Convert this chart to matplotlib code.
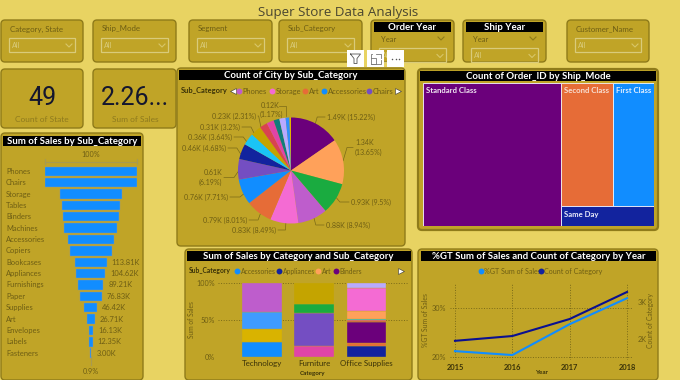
#Importing the functions
import numpy as np
import matplotlib
matplotlib.use('Agg')
import matplotlib.pyplot as plt
from matplotlib.patches import FancyBboxPatch, Rectangle

plt.rcParams['font.family'] = ['Lato', 'Roboto', 'DejaVu Sans']

# Data for the funnel
sub_categories = ['Phones', 'Chairs', 'Storage', 'Tables', 'Binders', 'Machines', 'Accessories', 'Copiers',
                  'Bookcases', 'Appliances', 'Furnishings', 'Paper', 'Supplies', 'Art', 'Envelopes', 'Labels', 'Fasteners']
sales_k = [330.0, 327.0, 222.0, 206.0, 202.0, 189.0, 164.0, 148.0,
           113.81, 104.62, 89.21, 76.83, 46.42, 26.71, 16.13, 12.35, 3.00]
funnel_labels = ['', '', '', '', '', '', '', '', '113.81K', '104.62K', '89.21K', '76.83K', '46.42K', '26.71K', '16.13K', '12.35K', '3.00K']

# Data for the pie (percent of city count, clockwise from the top)
pie_share = [15.22, 13.65, 9.5, 8.94, 8.49, 8.01, 7.71, 6.19, 4.68, 3.64, 3.2, 2.31, 2.2, 1.75, 1.9, 1.17, 0.44]
pie_colors = ['#6B007B', '#FFA15A', '#1AAB40', '#BE5DCC', '#F46BD3', '#E66C37', '#118DFF', '#744EC2', '#12239E',
              '#1AC4F5', '#C4A400', '#D9434F', '#E044A7', '#107C7C', '#B8AAFF', '#2F8FFF', '#E0B400']
pie_labels = ['1.49K (15.22%)', '1.34K\n(13.65%)', '0.93K (9.5%)', '0.88K (8.94%)', '0.83K (8.49%)', '0.79K (8.01%)',
              '0.76K (7.71%)', '0.61K\n(6.19%)', '0.46K (4.68%)', '0.36K (3.64%)', '0.31K (3.2%)', '0.23K (2.31%)']

# Data for the treemap
ship_modes = ['Standard Class', 'Second Class', 'First Class', 'Same Day']
order_counts = [5859, 1902, 1501, 538]
ship_colors = ['#6B007B', '#E66C37', '#118DFF', '#12239E']

# Data for the stacked bars
categories = ['Technology', 'Furniture', 'Office Supplies']
tech_sales = [164.0, 148.0, 189.0, 330.0]
tech_colors = ['#118DFF', '#D9B300', '#3F9BFF', '#BE5DCC']
furn_sales = [113.81, 327.0, 89.21, 206.0]
furn_colors = ['#E044A7', '#744EC2', '#1AAB40', '#C4A400']
office_sales = [104.62, 26.71, 202.0, 16.13, 3.00, 12.35, 76.83, 222.0, 46.42]
office_colors = ['#12239E', '#E66C37', '#6B007B', '#D9434F', '#E044A7', '#1AC4F5', '#FFA15A', '#F46BD3', '#B8AAFF']

# Data for the line chart
years = [2015, 2016, 2017, 2018]
pct_sales = [21.2, 20.4, 26.7, 32.0]
count_category = [1.95, 2.08, 2.54, 3.27]

BG = '#E8D362'
PANEL = '#C0A427'
EDGE = '#8F7B1A'
TXT = '#6E5E14'
DARK = '#3A3208'

fig = plt.figure(figsize=(6.8, 3.8), dpi=100, facecolor=BG)

# Whole figure axes in pixels, the panels and texts go on this one
bg = fig.add_axes([0, 0, 1, 1])
bg.set_xlim(0, 680)
bg.set_ylim(380, 0)
bg.axis('off')


def px_axes(x0, y0, x1, y1):
    # Makes an axes from pixel corners
    ax = fig.add_axes([x0/680, 1 - y1/380, (x1 - x0)/680, (y1 - y0)/380])
    ax.patch.set_alpha(0)
    return ax


def panel(x0, y0, x1, y1, lw=1.0):
    bg.add_patch(FancyBboxPatch((x0 + 3, y0 + 3), x1 - x0 - 6, y1 - y0 - 6, boxstyle='round,pad=3,rounding_size=4',
                                fc=PANEL, ec=EDGE, lw=lw))


def title_bar(x0, y0, x1, y1, text, size=6.9):
    bg.add_patch(Rectangle((x0, y0), x1 - x0, y1 - y0, fc='black', ec='none'))
    bg.text((x0 + x1)/2, (y0 + y1)/2 + 0.3, text, color='white', fontsize=size, fontweight='bold', ha='center', va='center')


def chevron(x, y, color='#D8C668'):
    bg.plot([x - 3, x, x + 3], [y - 1.5, y + 1.5, y - 1.5], color=color, lw=0.8)


def slicer(x0, x1, name):
    panel(x0, 20, x1, 62)
    bg.text(x0 + 9, 29, name, color=TXT, fontsize=5.7, va='center')
    bg.add_patch(Rectangle((x0 + 8, 38), x1 - x0 - 16, 14, fc='none', ec='#D9CB7A', lw=0.9))
    bg.text(x0 + 11, 45.5, 'All', color='#D9CB7A', fontsize=5.2, va='center')
    chevron(x1 - 14, 45.5)


def year_slicer(x0, x1, name):
    panel(x0, 20, x1, 62)
    title_bar(x0 + 3, 22, x1 - 3, 32, name)
    bg.text(x0 + 10, 40, 'Year', color=TXT, fontsize=5.5, va='center')
    chevron(x1 - 13, 38.5, '#8F7B1A')
    bg.add_patch(Rectangle((x0 + 8, 48), x1 - x0 - 16, 13.5, fc='none', ec='#D9CB7A', lw=0.9))
    bg.text(x0 + 11, 56, 'All', color='#D9CB7A', fontsize=5.2, va='center')
    chevron(x1 - 14, 56)


def legend_item(x, y, name, color, size=5.4):
    bg.scatter([x], [y], s=18, color=color, linewidths=0, zorder=4)
    bg.text(x + 3.5, y + 0.2, name, color=TXT, fontsize=size, va='center')


def arrow(x, y, direction):
    bg.scatter([x], [y], s=18, marker='>' if direction > 0 else '<', color='white', edgecolors='#333333', linewidths=0.4, zorder=4)


# Header and the slicers
bg.text(338, 12.5, 'Super Store Data Analysis', color='#4A4630', fontsize=9.6, ha='center', va='center', family='Open Sans')
slicer(1, 83, 'Category, State')
slicer(93, 176, 'Ship_Mode')
slicer(189, 272, 'Segment')
slicer(279, 362, 'Sub_Category')
year_slicer(371, 454, 'Order Year')
year_slicer(463, 546, 'Ship Year')
slicer(567, 649, 'Customer_Name')

# The two cards
panel(1, 69, 83, 128)
bg.text(42, 98, '49', color='#14162E', fontsize=18, ha='center', va='center', family='Roboto')
bg.text(42, 120, 'Count of State', color='#8E7A1E', fontsize=6, ha='center', va='center')
panel(93, 69, 176, 128)
bg.text(135, 98, '2.26...', color='#14162E', fontsize=18, ha='center', va='center', family='Roboto')
bg.text(135, 120, 'Sum of Sales', color='#8E7A1E', fontsize=6, ha='center', va='center')

# Funnel panel
panel(1, 133, 143, 380)
title_bar(3, 136, 141, 146, 'Sum of Sales by Sub_Category')
bg.text(91, 154.5, '100%', color=TXT, fontsize=5.2, ha='center', va='center')
bg.plot([44.7, 137], [161.5, 161.5], color='#A89A50', lw=0.8)
bg.plot([44.7, 44.7], [159, 164], color='#A89A50', lw=0.8)
bg.plot([137, 137], [159, 164], color='#A89A50', lw=0.8)
bg.plot([91, 91], [356, 365], color='#A89A50', lw=0.8)
bg.text(91, 371.5, '0.9%', color=TXT, fontsize=5.2, ha='center', va='center')

ax1 = px_axes(44.7, 165.6, 137, 358.9)
sales = np.array(sales_k)
ax1.barh(range(len(sales)), sales, left=-sales/2, height=0.83, color='#118DFF', edgecolor='#8E9AA0', linewidth=0.3)
ax1.set_xlim(-165, 165)
ax1.set_ylim(16.5, -0.5)
ax1.axis('off')
for i, name in enumerate(sub_categories):
    bg.text(6, 171.3 + i*11.37, name, color=TXT, fontsize=5.4, va='center')
    if funnel_labels[i]:
        ax1.annotate(funnel_labels[i], (sales[i]/2, i), xytext=(5, 0), textcoords='offset pixels',
                     color=TXT, fontsize=5.4, va='center', annotation_clip=False)

# Pie panel
panel(177, 68, 405, 246)
title_bar(178.5, 70, 403.5, 80, 'Count of City by Sub_Category')
bg.text(181, 91, 'Sub_Category', color=DARK, fontsize=5.4, fontweight='bold', va='center')
arrow(233, 90.5, -1)
arrow(398, 90.5, 1)
legend_item(239, 91, 'Phones', '#BE5DCC')
legend_item(272, 91, 'Storage', '#F46BD3')
legend_item(305, 91, 'Art', '#E66C37')
legend_item(324, 91, 'Accessories', '#118DFF')
legend_item(369, 91, 'Chairs', '#744EC2')

ax2 = px_axes(291 - 54, 170.5 - 54, 291 + 54, 170.5 + 54)
ax2.pie(pie_share, colors=pie_colors, startangle=90, counterclock=False, radius=1.0,
        wedgeprops={'linewidth': 0})
ax2.set_xlim(-1.0185, 1.0185)
ax2.set_ylim(-1.0185, 1.0185)

# Pie labels and their leader lines, places are in pixels
label_pos = [(327, 117, 'left'), (355, 147.5, 'left'), (351, 202, 'left'), (326, 225, 'left'), (276, 230, 'right'), (247, 220, 'right'),
             (228, 197, 'right'), (222, 177.5, 'right'), (226, 148, 'right'), (232, 137, 'right'), (240, 127, 'right'), (256, 116, 'right')]
edges = np.cumsum([0] + pie_share)
for i, text in enumerate(pie_labels):
    lx, ly, side = label_pos[i]
    mid = np.radians((edges[i] + edges[i + 1])/2*3.6)
    ex, ey = 291 + 53*np.sin(mid), 170.5 - 53*np.cos(mid)
    ox = 291 + 57*np.sin(mid)
    end = lx - 2 if side == 'left' else lx + 2
    bg.plot([ex, ox, end], [ey, ly, ly], color='#7A6A18', lw=0.5, zorder=3)
    bg.text(lx, ly, text, color=TXT, fontsize=5.1, ha=side, va='center', linespacing=1.3)
bg.text(270, 106, '0.12K', color=TXT, fontsize=5.1, ha='center', va='center')
bg.text(271, 114.5, '(1.17%)', color=TXT, fontsize=5.1, ha='center', va='center')
bg.plot([279, 286, 286], [106, 106, 116], color='#7A6A18', lw=0.5, zorder=3)

# Treemap panel
panel(418, 69, 658, 230, lw=1.6)
title_bar(420, 71, 656, 81, 'Count of Order_ID by Ship_Mode')
ax3 = px_axes(423, 83, 654, 226)
shares = np.array(order_counts)/sum(order_counts)
right_w = 1 - shares[0]
rest = shares[1] + shares[2]
same_h = shares[3]/right_w
ax3.bar([shares[0]/2], [1], width=shares[0], color=ship_colors[0], edgecolor='#E8E0F0', linewidth=0.7)
ax3.bar([shares[0] + right_w*shares[1]/rest/2], [1 - same_h], width=right_w*shares[1]/rest, color=ship_colors[1], edgecolor='#F0E4E0', linewidth=0.7)
ax3.bar([1 - right_w*shares[2]/rest/2], [1 - same_h], width=right_w*shares[2]/rest, color=ship_colors[2], edgecolor='#E0ECF8', linewidth=0.7)
ax3.bar([shares[0] + right_w/2], [same_h], bottom=[1 - same_h], width=right_w, color=ship_colors[3], edgecolor='#E0E4F8', linewidth=0.7)
ax3.set_xlim(0, 1)
ax3.set_ylim(1, 0)
ax3.axis('off')
ax3.text(425.5, 90.5, ship_modes[0], color='#F0E6F2', fontsize=5.6, fontweight='bold', va='center', transform=bg.transData)
ax3.text(564, 90.5, ship_modes[1], color='#F8E0D4', fontsize=5.6, fontweight='bold', va='center', transform=bg.transData)
ax3.text(616, 90.5, ship_modes[2], color='#E4F0FF', fontsize=5.6, fontweight='bold', va='center', transform=bg.transData)
ax3.text(564, 214.5, ship_modes[3], color='#E8EAFA', fontsize=5.6, fontweight='bold', va='center', transform=bg.transData)

# Stacked bars panel
panel(185, 249, 412, 380)
title_bar(186.5, 251, 410.5, 261, 'Sum of Sales by Category and Sub_Category')
bg.text(189, 271, 'Sub_Category', color=DARK, fontsize=4.9, fontweight='bold', va='center')
legend_item(237, 271, 'Accessories', '#118DFF', 4.9)
legend_item(279, 271, 'Appliances', '#12239E', 4.9)
legend_item(318, 271, 'Art', '#FFA15A', 4.9)
legend_item(336, 271, 'Binders', '#6B007B', 4.9)
arrow(401, 271, 1)

ax4 = px_axes(218, 283, 408, 357)
for i, (vals, cols) in enumerate([(tech_sales, tech_colors), (furn_sales, furn_colors), (office_sales, office_colors)]):
    vals = np.array(vals)/sum(vals)*100
    bottom = 0
    for v, c in zip(vals, cols):
        ax4.bar(i, v, bottom=bottom, width=0.76, color=c, edgecolor=PANEL, linewidth=0.25, zorder=3)
        bottom += v
ax4.set_xlim(-0.83, 2.79)
ax4.set_ylim(0, 100)
ax4.set_yticks([0, 50, 100])
ax4.set_yticklabels(['0%', '50%', '100%'], color=TXT, fontsize=5.2)
ax4.set_xticks(range(3))
ax4.set_xticklabels(categories, color=DARK, fontsize=5.7)
ax4.tick_params(length=0, pad=2)
ax4.grid(axis='y', color='#7A6A18', linestyle=':', linewidth=0.7)
ax4.set_axisbelow(True)
for s in ax4.spines.values():
    s.set_visible(False)
bg.text(192, 320, 'Sum of Sales', color=TXT, fontsize=4.8, rotation=90, ha='center', va='center')
bg.text(313, 373, 'Category', color=DARK, fontsize=4.5, fontweight='bold', ha='center', va='center')

# Line chart panel
panel(418, 249, 658, 380)
title_bar(421, 251, 656, 261, '%GT Sum of Sales and Count of Category by Year')
legend_item(481, 271, '%GT Sum of Sales', '#118DFF', 5.1)
legend_item(541, 271, 'Count of Category', '#12239E', 5.1)

ax5 = px_axes(450, 284, 632, 360)
ax5.plot(years, pct_sales, color='#118DFF', lw=1.5, zorder=3)
ax5.set_xlim(2015 - 5/57.3, 2018 + 5/57.3)
ax5.set_ylim(19.39, 34.9)
ax5.set_yticks([20, 30])
ax5.set_yticklabels(['20%', '30%'], color=TXT, fontsize=5.3)
ax5.set_xticks(years)
ax5.set_xticklabels(years, color=DARK, fontsize=5.4, fontweight='bold')
ax5.tick_params(length=0, pad=3)
ax5.grid(color='#7A6A18', linestyle=':', linewidth=0.7)
ax6 = ax5.twinx()
ax6.plot(years, count_category, color='#0A1090', lw=1.5, zorder=3)
ax6.set_ylim(1.432, 3.486)
ax6.set_yticks([2, 3])
ax6.set_yticklabels(['2K', '3K'], color=TXT, fontsize=5.3)
ax6.tick_params(length=0, pad=4)
for a in [ax5, ax6]:
    for s in a.spines.values():
        s.set_visible(False)
bg.text(426, 320, '%GT Sum of Sales', color=TXT, fontsize=4.9, rotation=90, ha='center', va='center')
bg.text(651, 320, 'Count of Category', color=TXT, fontsize=4.9, rotation=90, ha='center', va='center')
bg.text(541, 373, 'Year', color=DARK, fontsize=4.5, fontweight='bold', ha='center', va='center')

# The little toolbar over the pie panel
ax7 = px_axes(0, 0, 680, 380)
ax7.set_xlim(0, 680)
ax7.set_ylim(380, 0)
ax7.axis('off')
for x in [347, 367, 387]:
    ax7.add_patch(Rectangle((x, 50), 17, 17, fc='white', ec='none'))
ax7.plot([350.5, 360.5, 357, 357, 354, 354, 350.5], [54, 54, 58.5, 63.5, 63.5, 58.5, 54], color='#555555', lw=0.6)
ax7.plot([372, 370.5, 370.5, 380.5, 380.5], [54, 54, 63.5, 63.5, 60], color='#777777', lw=0.6)
ax7.plot([370.5, 376, 376, 370.5], [58, 58, 63.5, 63.5], color='#777777', lw=0.6)
ax7.plot([376, 381, 381], [54, 54, 58], color='#777777', lw=0.6)
ax7.scatter([392, 395.5, 399], [58.5, 58.5, 58.5], s=1.2, color='#555555', linewidths=0)

fig.savefig('out.png', dpi=100, facecolor=BG)
